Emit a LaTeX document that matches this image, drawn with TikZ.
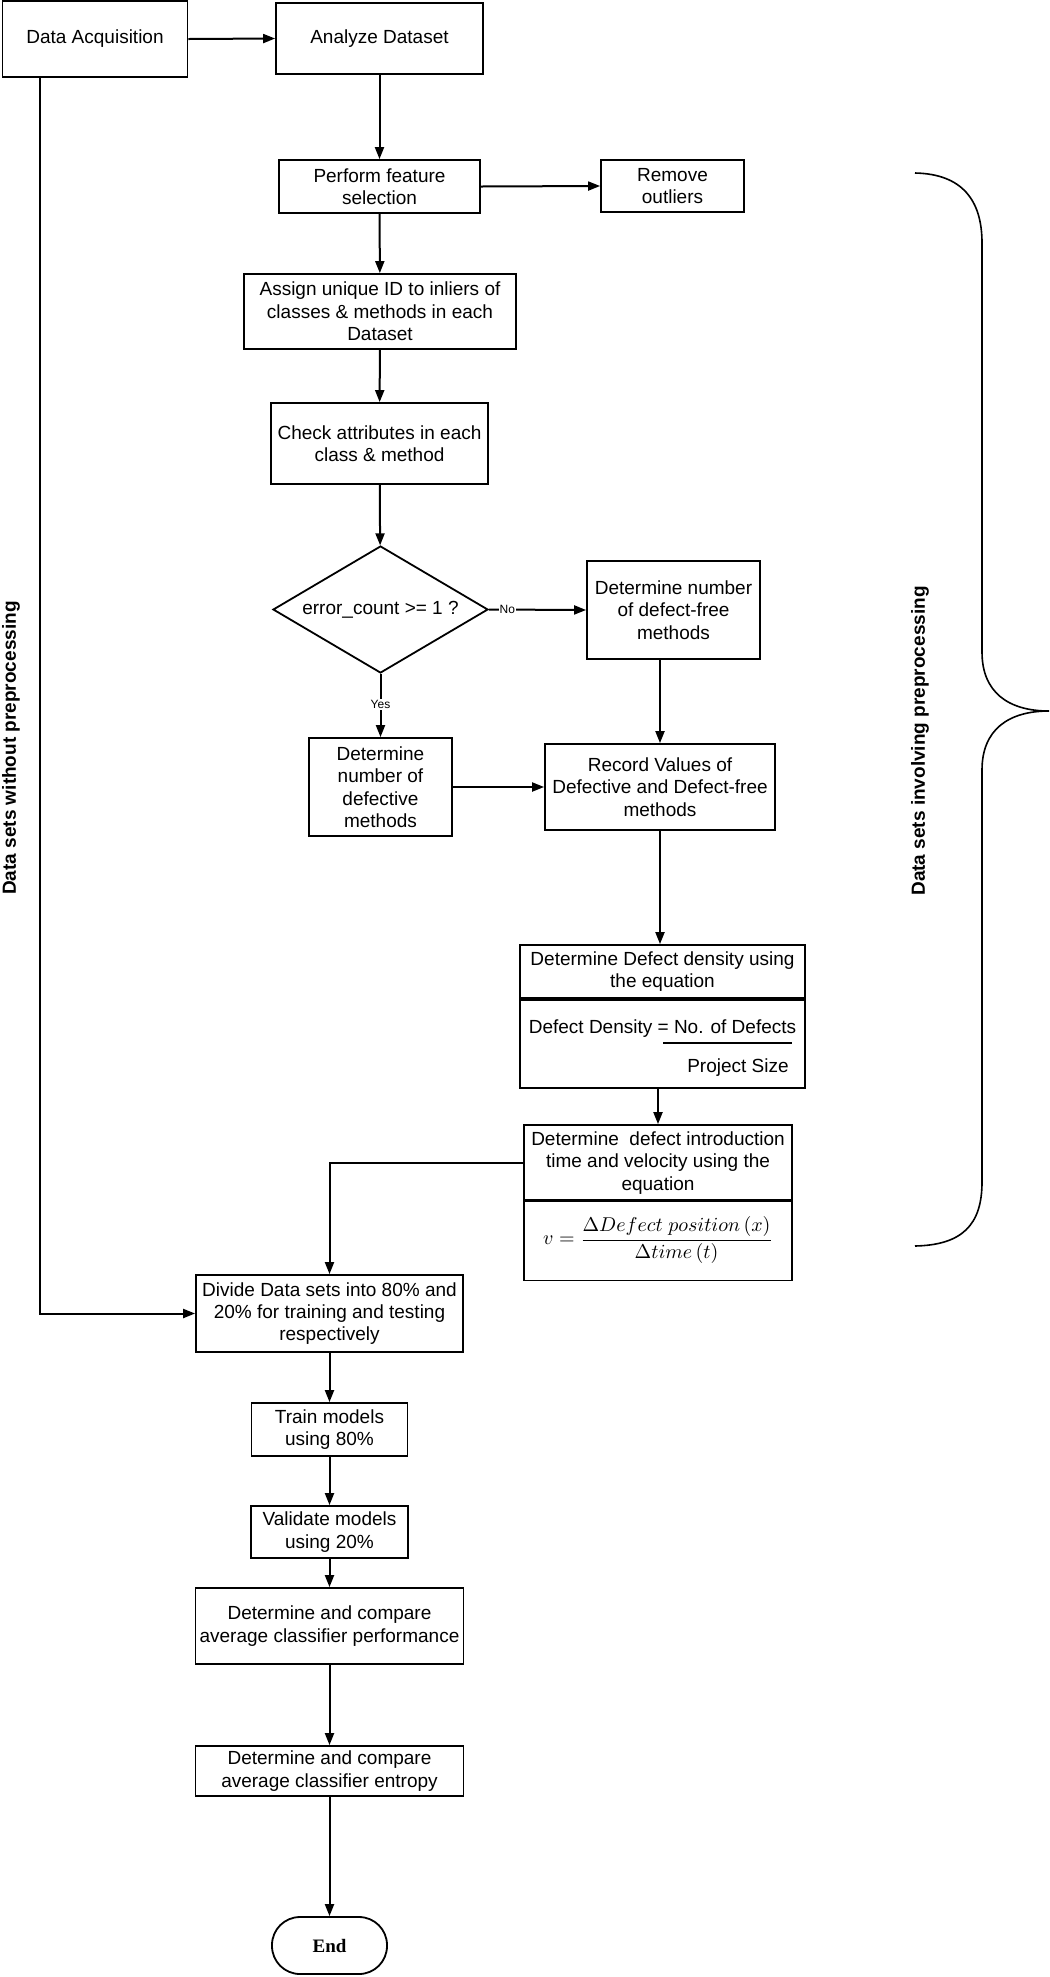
\documentclass[tikz,border=0pt]{standalone}
\usepackage{amsmath}
\usepackage[no-math]{fontspec}
\setmainfont{Liberation Sans}
\newfontfamily\endfont{Liberation Serif}
\usepackage{tikz}
\usetikzlibrary{calc,arrows.meta,positioning,shapes.geometric}
\tikzset{
  ar/.style={-{Triangle[length=6pt,width=4.5pt]},line width=1pt},
  box/.style={draw,line width=0.9pt,align=center,inner sep=2pt,font=\fontsize{9.5}{11.2}\selectfont},
  lbl/.style={font=\fontsize{6}{7}\selectfont,fill=white,inner sep=0.6pt},
  side/.style={font=\bfseries\fontsize{9.5}{11}\selectfont,rotate=90}
}

\begin{document}
\begin{tikzpicture}[x=0.5pt,y=-0.5pt]
\useasboundingbox (0,0) rectangle (1050,1977);
% upper part
\node[box,minimum width=92.5pt,minimum height=38pt] (acq) at (95,39) {Data Acquisition};
\node[box,minimum width=103.5pt,minimum height=35.5pt] (ana) at (379.5,38.5) {Analyze Dataset};
\node[box,minimum width=100.5pt,minimum height=26.5pt] (feat) at (379.5,186.5) {Perform feature\\selection};
\node[box,minimum width=71.5pt,minimum height=26pt] (outl) at (672.5,186) {Remove\\outliers};
\node[box,minimum width=136pt,minimum height=37.5pt] (uid) at (380,311.5) {Assign unique ID to inliers of\\classes \& methods in each\\Dataset};
\node[box,minimum width=108.5pt,minimum height=40.5pt] (chk) at (379.5,443.5) {Check attributes in each\\class \& method};
\node[box,diamond,aspect=1.7,inner sep=0pt,minimum width=107.5pt,minimum height=63.5pt] (dec) at (380.5,609.5) {error\_count >= 1 ?};
\node[box,minimum width=86.5pt,minimum height=49pt] (dfree) at (673.5,610) {Determine number\\of defect-free\\methods};
\node[box,minimum width=71.5pt,minimum height=49pt] (defv) at (380.5,787) {Determine\\number of\\defective\\methods};
\node[box,minimum width=115pt,minimum height=43pt] (rec) at (660,787) {Record Values of\\Defective and Defect-free\\methods};
% equations
\node[box,minimum width=142.5pt,minimum height=26.5pt] (dens) at (662.5,971.5) {Determine Defect density using\\the equation};
\node[box,minimum width=142.5pt,minimum height=45pt] (densb) at (662.5,1043) {};
\node[font=\fontsize{9.5}{11}\selectfont] (ddtop) at (662.5,1029) {Defect Density = No. of Defects};
\node[font=\fontsize{9.5}{11}\selectfont] (ddbot) at (738,1068) {Project Size};
\draw[line width=0.6pt] (663,1043) -- (792,1043);
\draw[line width=1.8pt] (dens.south west) -- (dens.south east);
\node[box,minimum width=134pt,minimum height=38pt] (vel) at (658,1163) {Determine~ defect introduction\\time and velocity using the\\equation};
\node[box,minimum width=134pt,minimum height=40.5pt,font=\fontsize{10}{12}\selectfont] (velb) at (658,1240) {$v=\dfrac{\Delta Defect\ position\,(x)}{\Delta time\,(t)}$};
% lower part
\node[box,minimum width=133.5pt,minimum height=38.5pt] (div) at (329.5,1313.5) {Divide Data sets into 80\% and\\20\% for training and testing\\respectively};
\node[box,minimum width=78pt,minimum height=26.5pt] (train) at (329.5,1429.5) {Train models\\using 80\%};
\node[box,minimum width=78.5pt,minimum height=26pt] (val) at (329.5,1532) {Validate models\\using 20\%};
\node[box,minimum width=134pt,minimum height=38pt] (perf) at (329.5,1626) {Determine and compare\\average classifier performance};
\node[box,minimum width=134pt,minimum height=25pt] (ent) at (329.5,1771) {Determine and compare\\average classifier entropy};
\node[box,rounded corners=14pt,minimum width=57.5pt,minimum height=28.5pt,font=\endfont\bfseries\fontsize{9.5}{11}\selectfont] (fin) at (329.5,1945.5) {End};
% side labels and brace
\node[side] (nopre) at (11,748) {Data sets without preprocessing};
\node[side] (withpre) at (920,741) {Data sets involving preprocessing};
\draw[line width=0.8pt] (915,173) .. controls (962,174) and (982,200) .. (982,243) -- (982,652)
  .. controls (982,692) and (1008,711) .. (1049,711) .. controls (1008,711) and (982,730) .. (982,770)
  -- (982,1182) .. controls (982,1225) and (962,1245) .. (915,1246);
% connectors
\draw[ar] (acq.east) -- (ana.west);
\draw[ar] (ana) -- (feat);
\draw[ar] (feat.east) -- (outl.west);
\draw[ar] (feat) -- (uid);
\draw[ar] (uid) -- (chk);
\draw[ar] (chk) -- (dec);
\draw[ar] (dec.east) -- node[lbl,pos=0.19]{No} (dfree.west);
\draw[ar] (dec.south) -- node[lbl,pos=0.48]{Yes} (defv.north);
\draw[ar] (defv.east) -- (rec.west);
\draw[ar] (dfree.south -| rec.north) -- (rec.north);
\draw[ar] (rec.south) -- (rec.south |- dens.north);
\draw[ar] (vel.north |- densb.south) -- (vel.north);
\draw[ar] (vel.west) -| (div.north);
\draw[ar] ($(acq.south west)!0.205!(acq.south east)$) |- (div.west);
\draw[ar] (div) -- (train);
\draw[ar] (train) -- (val);
\draw[ar] (val) -- (perf);
\draw[ar] (perf) -- (ent);
\draw[ar] (ent) -- (fin);
\end{tikzpicture}
\end{document}
